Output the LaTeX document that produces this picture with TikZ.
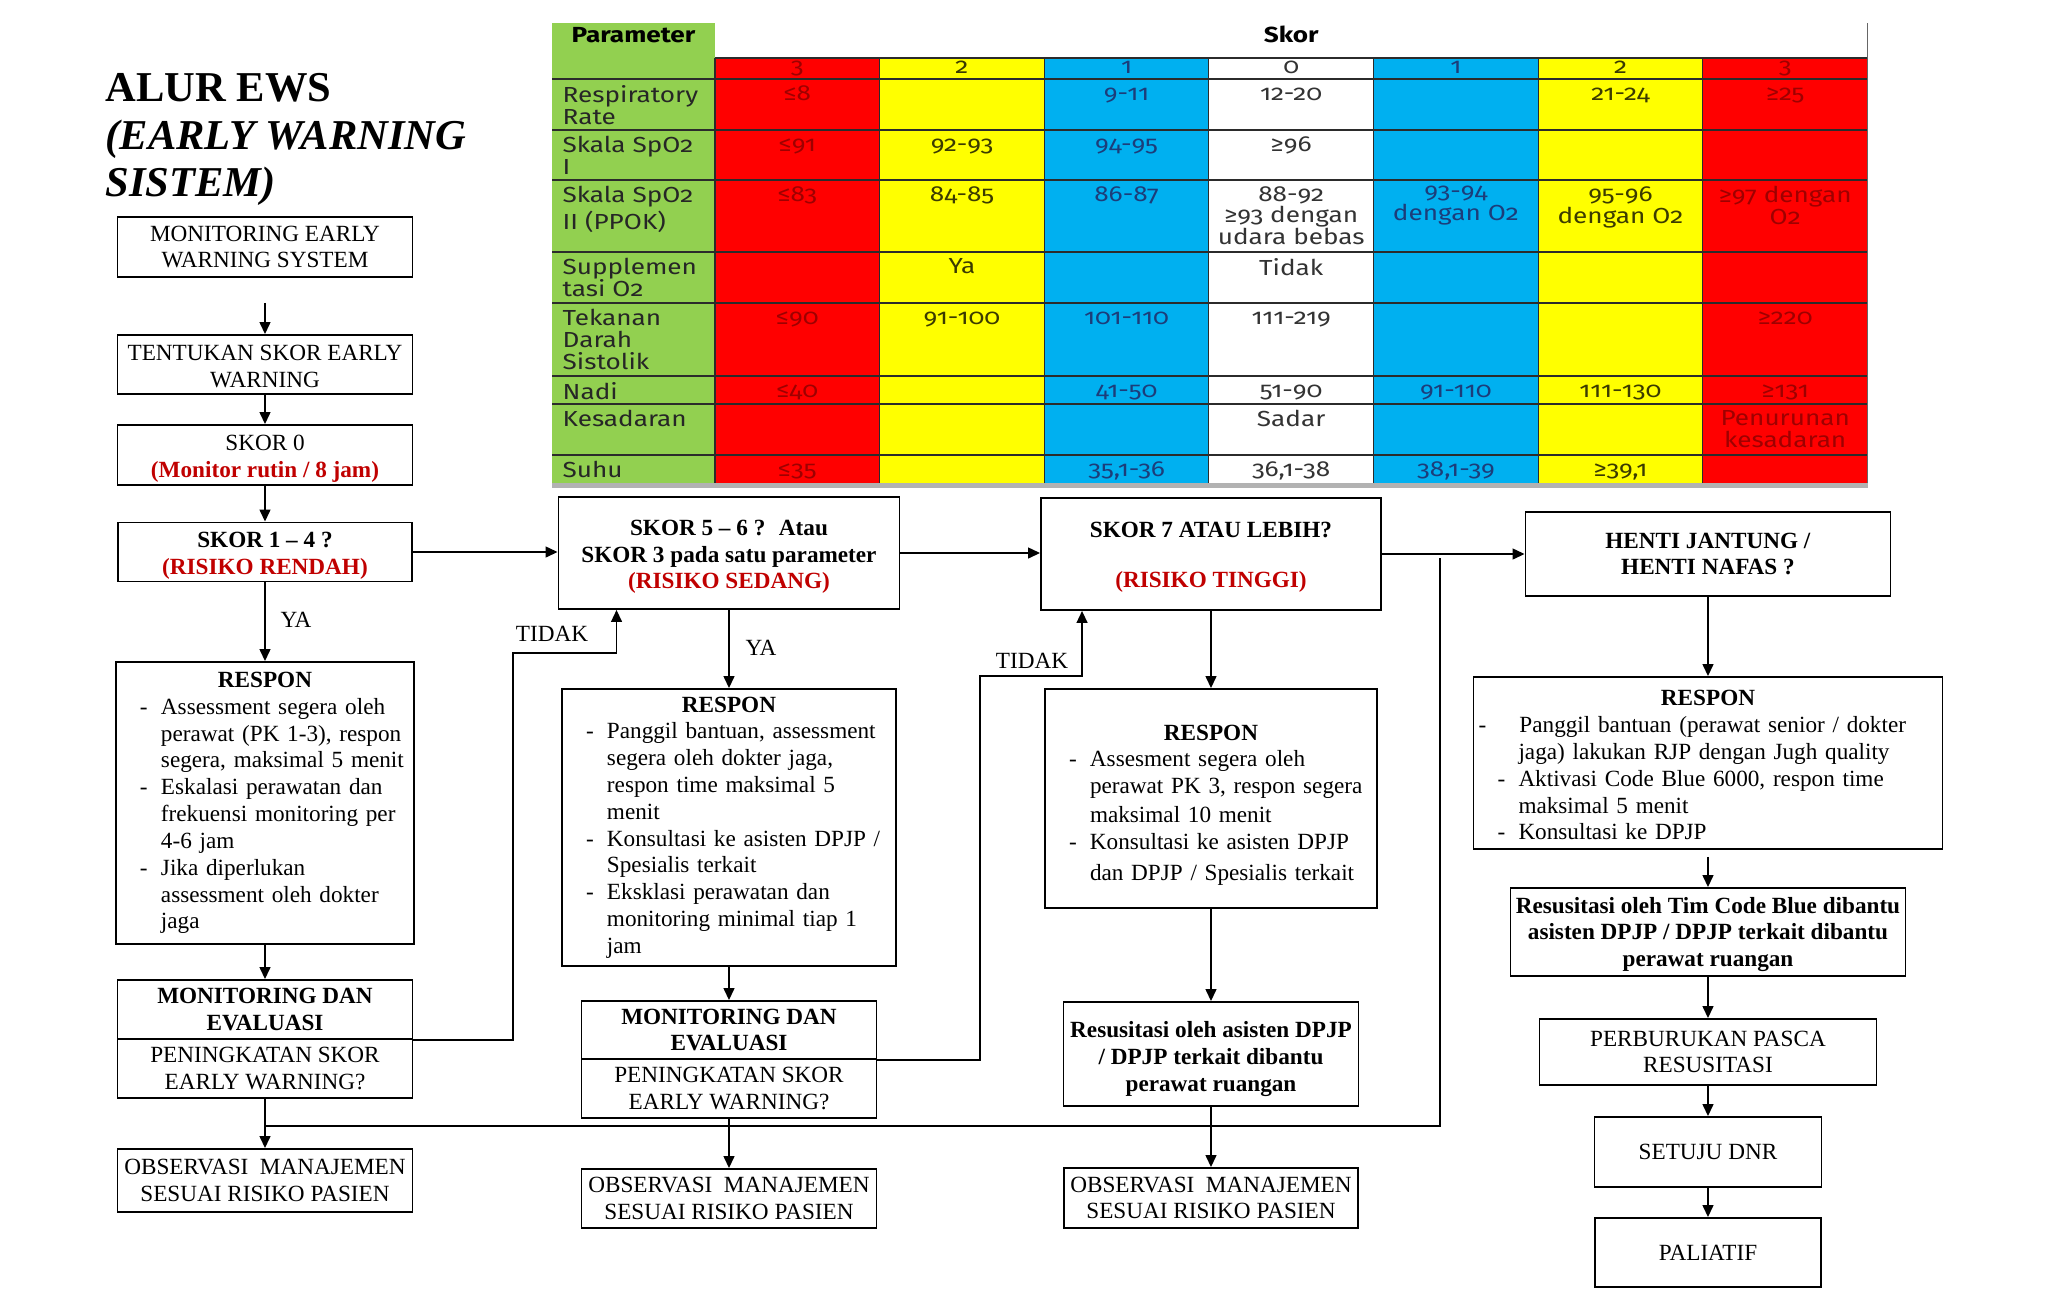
\documentclass[tikz,border=0pt]{standalone}
\usepackage{fontspec}
\setmainfont{Liberation Serif}
\newfontfamily\tabfont[Numbers=OldStyle,FakeStretch=1.2]{Fira Sans}
\usepackage{tikz}
\usetikzlibrary{
  positioning,
  arrows.meta
}
\definecolor{ewsred}{HTML}{FF0000}
\definecolor{ewsyellow}{HTML}{FFFF00}
\definecolor{ewsblue}{HTML}{00B0F0}
\definecolor{ewsgreen}{HTML}{92D050}
\definecolor{risk}{HTML}{C00000}
\definecolor{redtxt}{HTML}{9E0000}
\definecolor{yeltxt}{HTML}{3B3B00}
\definecolor{bluetxt}{HTML}{1C3D7A}
\definecolor{zerotxt}{HTML}{333333}
\definecolor{tabline}{HTML}{2B2B2B}
\newcommand{\dashitem}{\hspace*{0.19cm}\makebox[0.21cm][l]{-}}
\newcommand{\contline}{\hspace*{0.40cm}}
\newcommand{\lift}[1]{\rule{0pt}{#1}}

\begin{document}
\begin{tikzpicture}[
  font=\fontsize{6.6pt}{7.63pt}\selectfont,
  box/.style={draw, line width=0.55pt, align=center, inner xsep=0.03cm, inner ysep=0.02cm},
  listbox/.style={box, align=left, inner xsep=0.05cm},
  arr/.style={-{Triangle[length=1.2mm, width=1.1mm]}, line width=0.4pt},
  lbl/.style={inner sep=0pt, anchor=base},
  cell/.style={anchor=north, inner sep=0pt, align=center,
               font=\tabfont\fontsize{6.2pt}{6.2pt}\selectfont, execute at begin node=\strut},
  pcell/.style={cell, anchor=north west, align=left, text=black!85},
  hcell/.style={anchor=base, inner sep=0pt, font=\tabfont\bfseries\fontsize{6.2pt}{6.2pt}\selectfont},
  ncell/.style={anchor=base, inner sep=0pt, font=\tabfont\fontsize{6.2pt}{6.2pt}\selectfont}
]
  \useasboundingbox (0,0) rectangle (20.48,-13.04);

  % Score table
  \fill[ewsgreen] (5.52,-0.23) rectangle (7.15,-4.83);
  \fill[ewsred] (7.15,-0.58) rectangle (8.796,-4.83);
  \fill[ewsyellow] (8.796,-0.58) rectangle (10.443,-4.83);
  \fill[ewsblue] (10.443,-0.58) rectangle (12.089,-4.83);
  \fill[ewsblue] (13.736,-0.58) rectangle (15.382,-4.83);
  \fill[ewsyellow] (15.382,-0.58) rectangle (17.028,-4.83);
  \fill[ewsred] (17.028,-0.58) rectangle (18.675,-4.83);
  \fill[black!30] (5.52,-4.83) rectangle (18.675,-4.88);
  \draw[tabline, line width=0.5pt] (7.15,-0.58) -- (18.675,-0.58);
  \foreach \yy in {0.79,1.30,1.80,2.52,3.03,3.76,4.04,4.55}
    \draw[tabline, line width=0.5pt] (5.52,-\yy) -- (18.675,-\yy);
  \foreach \xx in {7.15,8.796,10.443,12.089,13.736,15.382,17.028}
    \draw[tabline, line width=0.3pt] (\xx,-0.58) -- (\xx,-4.83);
  \draw[black!60, line width=0.3pt] (18.675,-0.23) -- (18.675,-4.83);

  \node[hcell] (param) at (6.335,-0.42) {Parameter};
  \node[hcell] (skor) at (12.912,-0.42) {Skor};
  \foreach \i/\n/\c in {1/3/redtxt,2/2/yeltxt,3/1/bluetxt,4/0/zerotxt,5/1/bluetxt,6/2/yeltxt,7/3/redtxt}
    \node[ncell, text=\c] (n\i) at (7.15+\i*1.6464-0.8232,-0.73) {\n};

  \foreach \r/\yt/\pn/\va/\vb/\vc/\vd/\ve/\vf/\vg in {
    1/0.79/{Respiratory\\Rate}/{≤8}/{}/{9-11}/{12-20}/{}/{21-24}/{≥25},
    2/1.30/{Skala SpO2\\I}/{≤91}/{92-93}/{94-95}/{≥96}/{}/{}/{},
    3/1.80/{Skala SpO2\\II (PPOK)}/{≤83}/{84-85}/{86-87}/{88-92\\≥93 dengan\\udara bebas}/{93-94\\dengan O2}/{95-96\\dengan O2}/{≥97 dengan\\O2},
    4/2.52/{Supplemen\\tasi O2}/{}/{Ya}/{}/{Tidak}/{}/{}/{},
    5/3.03/{Tekanan\\Darah\\Sistolik}/{≤90}/{91-100}/{101-110}/{111-219}/{}/{}/{≥220},
    6/3.76/{Nadi}/{≤40}/{}/{41-50}/{51-90}/{91-110}/{111-130}/{≥131},
    7/4.04/{Kesadaran}/{}/{}/{}/{Sadar}/{}/{}/{Penurunan\\kesadaran},
    8/4.55/{Suhu}/{≤35}/{}/{35,1-36}/{36,1-38}/{38,1-39}/{≥39,1}/{}
  }{
    \node[pcell] (p\r) at (5.62,-\yt-0.057) {\pn};
    \node[cell, text=redtxt] (a\r) at (7.973,-\yt-0.057) {\va};
    \node[cell, text=yeltxt] (b\r) at (9.620,-\yt-0.057) {\vb};
    \node[cell, text=bluetxt] (c\r) at (11.266,-\yt-0.057) {\vc};
    \node[cell, text=zerotxt] (d\r) at (12.912,-\yt-0.057) {\vd};
    \node[cell, text=bluetxt] (e\r) at (14.559,-\yt-0.057) {\ve};
    \node[cell, text=yeltxt] (f\r) at (16.205,-\yt-0.057) {\vf};
    \node[cell, text=redtxt] (g\r) at (17.852,-\yt-0.057) {\vg};
  }

  % Title
  \node[anchor=north west, align=left, inner sep=0pt,
        font=\bfseries\fontsize{12.1pt}{13.5pt}\selectfont] (judul) at (1.05,-0.73)
    {ALUR EWS\\\textit{(EARLY WARNING}\\\textit{SISTEM)}};

  % Low risk column
  \node[box, minimum width=2.95cm, minimum height=0.60cm] (mews) at (2.65,-2.47) {MONITORING EARLY\\WARNING SYSTEM};
  \node[box, minimum width=2.95cm, minimum height=0.59cm] (tentukan) at (2.65,-3.645) {\lift{0.19cm}TENTUKAN SKOR EARLY\\WARNING};
  \node[box, minimum width=2.95cm, minimum height=0.60cm] (skor0) at (2.65,-4.55)
    {\lift{0.23cm}SKOR 0\\\textcolor{risk}{\textbf{(Monitor rutin / 8 jam)}}};
  \node[box, minimum width=2.94cm, minimum height=0.59cm] (skor14) at (2.65,-5.52)
    {\lift{0.23cm}\textbf{SKOR 1 – 4 ?}\\\textcolor{risk}{\textbf{(RISIKO RENDAH)}}};
  \node[listbox, text width=2.88cm, minimum height=2.82cm] (respon1) at (2.65,-8.03) {%
    \makebox[\linewidth]{\textbf{RESPON}}\\
    \dashitem Assessment segera oleh\\
    \contline perawat (PK 1-3), respon\\
    \contline segera, maksimal 5 menit\\
    \dashitem Eskalasi perawatan dan\\
    \contline frekuensi monitoring per\\
    \contline 4-6 jam\\
    \dashitem Jika diperlukan\\
    \contline assessment oleh dokter\\
    \contline jaga};
  \node[box, minimum width=2.95cm, minimum height=0.59cm] (monev1) at (2.65,-10.095)
    {\textbf{MONITORING DAN}\\\textbf{EVALUASI}};
  \node[box, minimum width=2.95cm, minimum height=0.59cm, below=-0.55pt of monev1] (naik1)
    {PENINGKATAN SKOR\\EARLY WARNING?};
  \node[box, minimum width=2.95cm, minimum height=0.63cm] (obs1) at (2.65,-11.805)
    {OBSERVASI~ MANAJEMEN\\SESUAI RISIKO PASIEN};

  % Medium risk column
  \node[box, minimum width=3.41cm, minimum height=1.12cm] (skor56) at (7.29,-5.53)
    {\lift{0.23cm}\textbf{SKOR 5 – 6 ?~ Atau}\\\textbf{SKOR 3 pada satu parameter}\\\textcolor{risk}{\textbf{(RISIKO SEDANG)}}};
  \node[listbox, text width=3.24cm, minimum height=2.77cm] (respon2) at (7.29,-8.275) {%
    \makebox[\linewidth]{\textbf{RESPON}}\\
    \dashitem Panggil bantuan, assessment\\
    \contline segera oleh dokter jaga,\\
    \contline respon time maksimal 5\\
    \contline menit\\
    \dashitem Konsultasi ke asisten DPJP /\\
    \contline Spesialis terkait\\
    \dashitem Eksklasi perawatan dan\\
    \contline monitoring minimal tiap 1\\
    \contline jam};
  \node[box, minimum width=2.95cm, minimum height=0.58cm] (monev2) at (7.29,-10.30)
    {\textbf{MONITORING DAN}\\\textbf{EVALUASI}};
  \node[box, minimum width=2.95cm, minimum height=0.59cm, below=-0.55pt of monev2] (naik2)
    {PENINGKATAN SKOR\\EARLY WARNING?};
  \node[box, minimum width=2.95cm, minimum height=0.59cm] (obs2) at (7.29,-11.985)
    {OBSERVASI~ MANAJEMEN\\SESUAI RISIKO PASIEN};

  % High risk column
  \node[box, minimum width=3.40cm, minimum height=1.12cm] (skor7) at (12.11,-5.54)
    {\lift{0.22cm}\textbf{SKOR 7 ATAU LEBIH?}\\[0.24cm]\textcolor{risk}{\textbf{(RISIKO TINGGI)}}};
  \node[listbox, text width=3.22cm, minimum height=2.19cm] (respon3) at (12.11,-7.985) {%
    \lift{0.28cm}\makebox[\linewidth]{\textbf{RESPON}}\\
    \dashitem Assesment segera oleh\\
    \contline perawat PK 3, respon segera\\[0.025cm]
    \contline maksimal 10 menit\\
    \dashitem Konsultasi ke asisten DPJP\\[0.035cm]
    \contline dan DPJP / Spesialis terkait};
  \node[box, minimum width=2.95cm, minimum height=1.04cm] (resus3) at (12.11,-10.54)
    {\lift{0.26cm}\textbf{Resusitasi oleh asisten DPJP}\\\textbf{/ DPJP terkait dibantu}\\\textbf{perawat ruangan}};
  \node[box, minimum width=2.94cm, minimum height=0.60cm] (obs3) at (12.11,-11.98)
    {OBSERVASI~ MANAJEMEN\\SESUAI RISIKO PASIEN};

  % Arrest column
  \node[box, minimum width=3.65cm, minimum height=0.84cm] (henti) at (17.08,-5.54)
    {\textbf{HENTI JANTUNG /}\\\textbf{HENTI NAFAS ?}};
  \node[listbox, text width=4.59cm, minimum height=1.72cm] (respon4) at (17.08,-7.63) {%
    \lift{0.2cm}\makebox[\linewidth]{\textbf{RESPON}}\\
    \makebox[0.41cm][l]{-}Panggil bantuan (perawat senior / dokter\\
    \contline jaga) lakukan RJP dengan Jugh quality\\
    \dashitem Aktivasi Code Blue 6000, respon time\\
    \contline maksimal 5 menit\\
    \dashitem Konsultasi ke DPJP};
  \node[box, minimum width=3.95cm, minimum height=0.88cm] (resus4) at (17.08,-9.32)
    {\lift{0.21cm}\textbf{Resusitasi oleh Tim Code Blue dibantu}\\\textbf{asisten DPJP / DPJP terkait dibantu}\\\textbf{perawat ruangan}};
  \node[box, minimum width=3.37cm, minimum height=0.66cm] (pasca) at (17.08,-10.52) {PERBURUKAN PASCA\\RESUSITASI};
  \node[box, minimum width=2.27cm, minimum height=0.70cm] (dnr) at (17.08,-11.52) {SETUJU DNR};
  \node[box, minimum width=2.26cm, minimum height=0.69cm] (paliatif) at (17.08,-12.525) {PALIATIF};

  % Labels
  \node[lbl] (ya1) at (2.96,-6.27) {YA};
  \node[lbl] (ya2) at (7.61,-6.55) {YA};
  \node[lbl] (tidak1) at (5.52,-6.41) {TIDAK};
  \node[lbl] (tidak2) at (10.32,-6.68) {TIDAK};

  % Vertical flow
  \draw[arr] ([yshift=-0.25cm]mews.south) -- (tentukan.north);
  \draw[arr] (tentukan) -- (skor0);
  \draw[arr] (skor0) -- (skor14);
  \draw[arr] (skor14) -- (respon1);
  \draw[arr] (respon1) -- (monev1);
  \draw[arr] (naik1) -- (obs1);
  \draw[arr] (skor56) -- (respon2);
  \draw[arr] (respon2) -- (monev2);
  \draw[arr] (naik2) -- (obs2);
  \draw[arr] (skor7) -- (respon3);
  \draw[arr] (respon3) -- (resus3);
  \draw[arr] (resus3) -- (obs3);
  \draw[arr] (henti) -- (respon4);
  \draw[arr, shorten <=0.07cm] (respon4) -- (resus4);
  \draw[arr] (resus4) -- (pasca);
  \draw[arr] (pasca) -- (dnr);
  \draw[arr] (dnr) -- (paliatif);

  % Escalation
  \draw[arr] (skor14.east) -- (skor14.east -| skor56.west);
  \draw[arr] (skor56.east) -- (skor56.east -| skor7.west);
  \draw[arr] (skor7.east) -- (skor7.east -| henti.west);

  % Score rises again
  \coordinate (back1) at (5.13,-6.53);
  \coordinate (back2) at (9.80,-6.76);
  \draw[arr] (monev1.south east) -| (back1) -| ([xshift=0.59cm]skor56.south west);
  \draw[arr] (monev2.south east) -| (back2) -| ([xshift=0.42cm]skor7.south west);

  % Arrest at any time
  \coordinate (joinL) at (2.65,-11.26);
  \coordinate (joinR) at (14.40,-5.58);
  \draw[line width=0.4pt] (joinL) -| (joinR);
\end{tikzpicture}
\end{document}
